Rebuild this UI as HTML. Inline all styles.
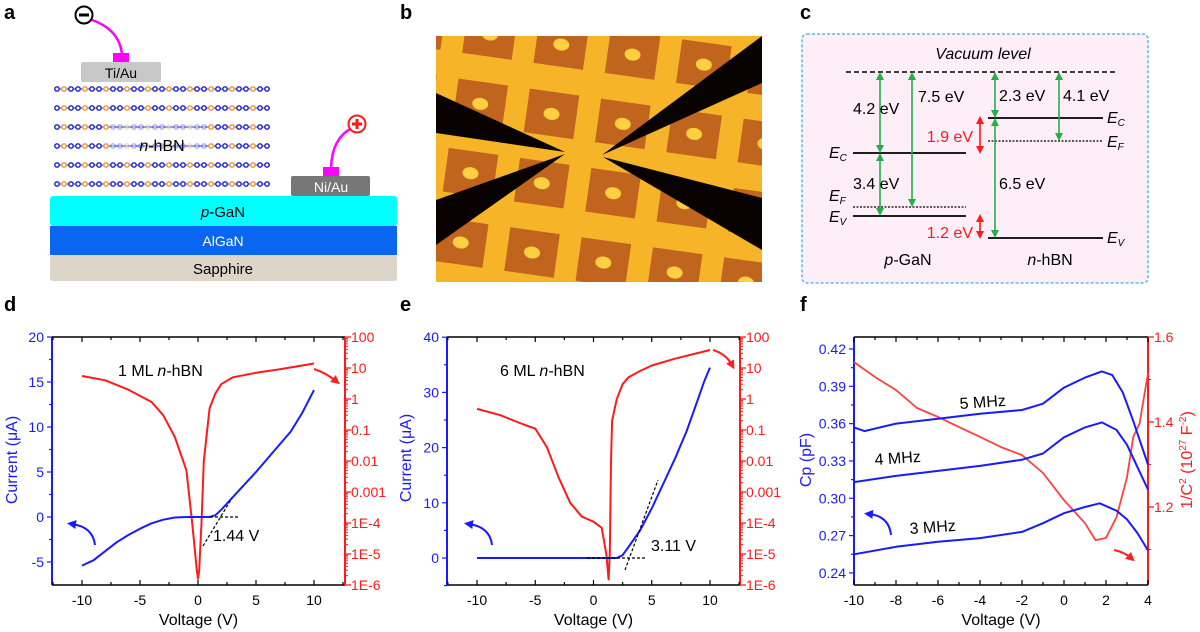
<!DOCTYPE html>
<html><head><meta charset="utf-8">
<style>
html,body{margin:0;padding:0;background:#fff;}
svg{display:block;font-family:"Liberation Sans",Arial,sans-serif;}
</style></head>
<body>
<svg id="fig" width="1200" height="632" viewBox="0 0 1200 632" xmlns="http://www.w3.org/2000/svg">
<defs>
<marker id="ag" markerWidth="8" markerHeight="8" refX="4" refY="4" orient="auto-start-reverse" markerUnits="userSpaceOnUse"><path d="M0,0 L8,4 L0,8 Z" fill="#22b04a"/></marker>
<marker id="ar" markerWidth="8" markerHeight="8" refX="4" refY="4" orient="auto-start-reverse" markerUnits="userSpaceOnUse"><path d="M0,0 L8,4 L0,8 Z" fill="#ff1a1a"/></marker>
<marker id="ab" markerWidth="9" markerHeight="9" refX="4" refY="4.5" orient="auto" markerUnits="userSpaceOnUse"><path d="M0,0 L9,4.5 L0,9 Z" fill="#1a1aff"/></marker>
<marker id="arr" markerWidth="9" markerHeight="9" refX="4" refY="4.5" orient="auto" markerUnits="userSpaceOnUse"><path d="M0,0 L9,4.5 L0,9 Z" fill="#ff2020"/></marker>
<pattern id="grid" width="72" height="70" patternUnits="userSpaceOnUse" patternTransform="rotate(8) translate(20,2)">
<rect width="72" height="70" fill="#f6b428"/>
<rect x="13" y="12" width="50" height="44" fill="#c0641e"/>
<ellipse cx="38" cy="34" rx="8" ry="6" fill="#fcd040"/>
</pattern>
</defs>

<!-- Panel a -->
<g>
<text x="4" y="19" font-size="20" font-weight="bold">a</text>
<rect x="50" y="196" width="347" height="30" fill="#00ffff" rx="3"/>
<rect x="50" y="226" width="347" height="29" fill="#0a66f0"/>
<rect x="50" y="255" width="347" height="26" fill="#ddd5c7" rx="3"/>
<text x="223" y="217" font-size="15" text-anchor="middle"><tspan font-style="italic">p</tspan>-GaN</text>
<text x="223" y="246" font-size="14" text-anchor="middle" fill="#fff">AlGaN</text>
<text x="223" y="274" font-size="15" text-anchor="middle">Sapphire</text>
<rect x="81" y="62" width="80" height="20" fill="#c8c8c8" rx="2"/>
<text x="121" y="78" font-size="14" text-anchor="middle">Ti/Au</text>
<rect x="291" y="176" width="79" height="20" fill="#777" rx="2"/>
<text x="331" y="192" font-size="14" text-anchor="middle" fill="#fff">Ni/Au</text>
<rect x="113" y="53" width="16" height="9" fill="#ff00ff"/>
<rect x="323" y="167" width="16" height="9" fill="#ff00ff"/>
<path d="M92,20 Q120,30 122,55" stroke="#ff00ff" stroke-width="2.5" fill="none"/>
<path d="M352,128 Q332,138 331,168" stroke="#ff00ff" stroke-width="2.5" fill="none"/>
<circle cx="84" cy="15" r="8.5" fill="#fff" stroke="#000" stroke-width="2"/>
<rect x="79" y="13.5" width="10" height="3" fill="#000"/>
<circle cx="357" cy="124" r="8.5" fill="#fff" stroke="#ff1a1a" stroke-width="2"/>
<rect x="352" y="122.5" width="10" height="3" fill="#ff1a1a"/><rect x="355.5" y="119" width="3" height="10" fill="#ff1a1a"/>
<g id="hbn"></g>
<text x="162" y="151" font-size="16" text-anchor="middle"><tspan font-style="italic">n</tspan>-hBN</text>
</g>

<!-- Panel b -->
<g>
<text x="400" y="19" font-size="20" font-weight="bold">b</text>
<rect x="436" y="36" width="326" height="246" fill="url(#grid)"/>
<polygon points="436,93 436,133 565,152" fill="#080200"/>
<polygon points="436,200 436,245 565,154" fill="#080200"/>
<polygon points="762,36 762,83 602,155" fill="#080200"/>
<polygon points="762,198 762,250 603,157" fill="#080200"/>
</g>

<!-- Panel c -->
<g font-size="15">
<text x="800" y="19" font-size="20" font-weight="bold">c</text>
<rect x="802" y="34" width="346" height="249" rx="5" fill="#fdeef8" stroke="#3bb0e8" stroke-width="1.3" stroke-dasharray="3,2"/>
<text x="983" y="59" font-style="italic" font-size="16" text-anchor="middle">Vacuum level</text>
<line x1="846" y1="72" x2="1118" y2="72" stroke="#000" stroke-width="1.6" stroke-dasharray="5,3"/>
<line x1="853" y1="153" x2="966" y2="153" stroke="#000" stroke-width="1.8"/>
<line x1="853" y1="207" x2="966" y2="207" stroke="#000" stroke-width="1.3" stroke-dasharray="2,1.5"/>
<line x1="853" y1="216" x2="966" y2="216" stroke="#000" stroke-width="1.8"/>
<line x1="988" y1="118" x2="1103" y2="118" stroke="#000" stroke-width="1.8"/>
<line x1="988" y1="141" x2="1103" y2="141" stroke="#000" stroke-width="1.3" stroke-dasharray="2,1.5"/>
<line x1="988" y1="238" x2="1103" y2="238" stroke="#000" stroke-width="1.8"/>
<g stroke="#22b04a" stroke-width="1.6" marker-start="url(#ag)" marker-end="url(#ag)">
<line x1="880" y1="76" x2="880" y2="149"/>
<line x1="880" y1="157" x2="880" y2="212"/>
<line x1="912" y1="76" x2="912" y2="203"/>
<line x1="995" y1="76" x2="995" y2="114"/>
<line x1="995" y1="122" x2="995" y2="234"/>
<line x1="1059" y1="76" x2="1059" y2="137"/>
</g>
<g stroke="#ff1a1a" stroke-width="1.6" marker-start="url(#ar)" marker-end="url(#ar)">
<line x1="980" y1="120" x2="980" y2="150"/>
<line x1="980" y1="218" x2="980" y2="235"/>
</g>
<g font-size="16">
<text x="853" y="114">4.2 eV</text>
<text x="918" y="102">7.5 eV</text>
<text x="999" y="101">2.3 eV</text>
<text x="1063" y="101">4.1 eV</text>
<text x="973" y="142" fill="#ff1a1a" text-anchor="end">1.9 eV</text>
<text x="853" y="189">3.4 eV</text>
<text x="999" y="189">6.5 eV</text>
<text x="973" y="238" fill="#ff1a1a" text-anchor="end">1.2 eV</text>
</g>
<g font-style="italic" font-size="16">
<text x="829" y="158">E<tspan font-size="10" dy="3">C</tspan></text>
<text x="829" y="201">E<tspan font-size="10" dy="3">F</tspan></text>
<text x="829" y="222">E<tspan font-size="10" dy="3">V</tspan></text>
<text x="1107" y="123">E<tspan font-size="10" dy="3">C</tspan></text>
<text x="1107" y="147">E<tspan font-size="10" dy="3">F</tspan></text>
<text x="1107" y="243">E<tspan font-size="10" dy="3">V</tspan></text>
</g>
<text x="908" y="265" font-size="16" text-anchor="middle"><tspan font-style="italic">p</tspan>-GaN</text>
<text x="1050" y="265" font-size="16" text-anchor="middle"><tspan font-style="italic">n</tspan>-hBN</text>
</g>

<g id="charts"></g>
</svg>

<script>
// ---------- Panel d data ----------
const dBlueV = [-10,-9,-8,-7,-6,-5,-4,-3,-2,-1,0,1,1.5,2,3,4,5,6,7,8,9,10];
const dBlueI = [-5.4,-4.8,-3.8,-2.8,-2.0,-1.3,-0.7,-0.3,-0.05,0,0,0,0.2,0.8,2.2,3.6,5.0,6.5,8.0,9.5,11.6,14.1];
const dRedV = [-10,-8,-6,-4,-3,-2,-1,-0.5,-0.1,0,0.1,0.3,0.5,1,1.5,2,3,5,7,10];
const dRedI = [5.5,4,2,0.8,0.3,0.06,0.005,1e-4,3e-6,1.6e-6,3e-6,1e-4,0.01,0.5,1.5,3,5,7,9,14];
// ---------- Panel e data ----------
const eBlueV = [-10,-5,0,2,2.5,3,4,5,6,7,8,9,9.5,10];
const eBlueI = [0,0,0,0,0.5,2,5,9,13.5,18,23,29,32,34.5];
const eRedV = [-10,-8,-6,-5,-4,-3,-2,-1,0,0.7,1.1,1.3,1.4,1.5,1.6,2,2.5,3,4,5,7,10];
const eRedI = [0.48,0.3,0.15,0.11,0.028,0.003,4.5e-4,1.6e-4,1.1e-4,7e-5,1e-5,1.5e-6,1e-5,0.01,0.2,1,3,5,8,12,20,38];
// ---------- Panel f data ----------
const fV = [-10,-9.5,-8,-6,-4,-2,-1,0,1,1.8,2.3,2.8,3.3,4];
const f5MHz = [0.357,0.354,0.360,0.364,0.368,0.371,0.376,0.389,0.397,0.402,0.399,0.385,0.362,0.327];
const f4V = [-10,-8,-6,-4,-2,-1,0,1,1.8,2.5,3,3.5,4];
const f4MHz = [0.313,0.318,0.322,0.326,0.331,0.336,0.349,0.357,0.361,0.355,0.343,0.325,0.307];
const f3V = [-10,-8,-6,-4,-2,-1,0,1,1.7,2.5,3,3.5,4];
const f3MHz = [0.255,0.261,0.265,0.268,0.273,0.280,0.288,0.293,0.296,0.290,0.283,0.272,0.258];
const fInvV = [-10,-9,-8,-7,-6,-5,-4,-3,-2,-1,0,1,1.5,2,2.5,3,3.3,3.6,4];
const fInvC2 = [1.541,1.506,1.475,1.433,1.412,1.388,1.365,1.341,1.322,1.28,1.216,1.162,1.122,1.127,1.176,1.27,1.365,1.397,1.515];
// tick labels
const logTickLabels = ["100","10","1","0.1","0.01","0.001","1E-4","1E-5","1E-6"];
const dXTicks = [-10,-5,0,5,10];
const dYTicks = [-5,0,5,10,15,20];
const eYTicks = [0,10,20,30,40];
const fXTicks = [-10,-8,-6,-4,-2,0,2,4];
const fYTicks = [0.24,0.27,0.30,0.33,0.36,0.39,0.42];
const fY2Ticks = [1.2,1.4,1.6];

const NS = "http://www.w3.org/2000/svg";
const root = document.getElementById('charts');
function mk(tag, attrs, parent){
  const el = document.createElementNS(NS, tag);
  for (const k in attrs) el.setAttribute(k, attrs[k]);
  (parent||root).appendChild(el);
  return el;
}
function txt(s, attrs, parent){ const t = mk('text', attrs, parent); t.textContent = s; return t; }
function pathFrom(xs, ys, fx, fy){
  return xs.map((v,i)=>(i?'L':'M')+fx(v).toFixed(1)+','+fy(ys[i]).toFixed(1)).join(' ');
}

// hBN rows (panel a)
(function(){
  const g = document.getElementById('hbn');
  const rows = [89,108,127,146,165,184];
  rows.forEach((y,r)=>{
    mk('line',{x1:55,y1:y,x2:270,y2:y,stroke:'#5566dd','stroke-width':1.3},g);
    for(let i=0;i<31;i++){
      const x = 57 + i*7;
      const faded = (r===2||r===3) && x>110 && x<210;
      mk('circle',{cx:x,cy:y,r:2.2,fill:'#fff',stroke:(i%3===1)?'#f09030':'#1a1acc','stroke-width':1.4,opacity:faded?0.35:1},g);
    }
  });
})();

function panel(o){
  const g = mk('g',{});
  
  
  const L=o.L,R=o.R,T=o.T,B=o.B;
  const lbl = txt(o.letter,{x:o.lx,y:311,'font-size':20,'font-weight':'bold'},g);
  
  
  mk('line',{x1:L,y1:T,x2:R,y2:T,stroke:'#000','stroke-width':1.5},g);
  mk('line',{x1:L,y1:B,x2:R,y2:B,stroke:'#000','stroke-width':1.5},g);
  const la = mk('line',{x1:L,y1:T,x2:L,y2:B,stroke:'#1a1aff','stroke-width':2},g);
  
  
  const ra = mk('line',{x1:R,y1:T,x2:R,y2:B,stroke:'#ff1a1a','stroke-width':2},g);
  
  
  return g;
}
function xTicks(g,o,fx,ticks,minorStep,lo,hi){
  for(let v=lo; v<=hi+1e-9; v+=minorStep){
    const x=fx(v); if(x<o.L-0.5||x>o.R+0.5) continue;
    const major = ticks.some(t=>Math.abs(t-v)<1e-6);
    const h = major?5:3;
    mk('line',{x1:x,y1:o.B,x2:x,y2:o.B-h,stroke:'#000','stroke-width':1.2},g);
    mk('line',{x1:x,y1:o.T,x2:x,y2:o.T+h,stroke:'#000','stroke-width':1.2},g);
  }
  ticks.forEach(v=>{
    const t = txt(String(v),{x:fx(v),y:o.B+20,'font-size':14,'text-anchor':'middle'},g);
    
    
  });
  const xt = txt('Voltage (V)',{x:(o.L+o.R)/2,y:o.B+40,'font-size':16,'text-anchor':'middle'},g);
  
  
}
function yTicksLeft(g,o,fy,ticks,fmt,minor){
  ticks.forEach((v,i)=>{
    const y=fy(v);
    mk('line',{x1:o.L,y1:y,x2:o.L-5,y2:y,stroke:'#1a1aff','stroke-width':1.2},g);
    if(minor && i<ticks.length-1){ const ym=fy((v+ticks[i+1])/2); mk('line',{x1:o.L,y1:ym,x2:o.L-3,y2:ym,stroke:'#1a1aff','stroke-width':1.2},g); }
    const t = txt(fmt(v),{x:o.L-8,y:y+5,'font-size':14,'text-anchor':'end',fill:'#1a1aff'},g);
    
    
  });
}
function logRight(g,o,fyLog){
  logTickLabels.forEach((s,i)=>{
    const dec = 2-i;
    const y = fyLog(Math.pow(10,dec));
    mk('line',{x1:o.R,y1:y,x2:o.R+6,y2:y,stroke:'#ff1a1a','stroke-width':1.3},g);
    const t = txt(s,{x:o.R+6,y:y+5,'font-size':14,fill:'#ff1a1a'},g);
    
    
    if(i<logTickLabels.length-1){
      for(let m=2;m<=9;m++){
        const ym = fyLog(m*Math.pow(10,dec-1));
        mk('line',{x1:o.R,y1:ym,x2:o.R+3,y2:ym,stroke:'#ff1a1a','stroke-width':1},g);
      }
    }
  });
}
function curve(g,xs,ys,fx,fy,color,name,w){
  const p = mk('path',{d:pathFrom(xs,ys,fx,fy),fill:'none',stroke:color,'stroke-width':w||2,'stroke-linejoin':'round'},g);
  
  
}
function rotTitle(g,s,x,y,color,name){
  const t = txt(s,{x:x,y:y,'font-size':16,'text-anchor':'middle',fill:color,transform:'rotate(-90 '+x+' '+y+')'},g);
  
  
  return t;
}
function arrow(g,d,color,marker,name){
  const p = mk('path',{d:d,fill:'none',stroke:color,'stroke-width':2,'marker-end':'url(#'+marker+')'},g);
  
  
}

// ----- Panel d -----
(function(){
  const o={name:'panel-d',letter:'d',lx:4,L:52,R:345,T:337,B:585};
  const fx=v=>198+11.6*v, fy=i=>517-9*i, fyL=v=>337+(2-Math.log10(v))*31;
  const g=panel(o);
  xTicks(g,o,fx,dXTicks,2.5,-12.5,12.5);
  yTicksLeft(g,o,fy,dYTicks,v=>String(v),true);
  logRight(g,o,fyL);
  rotTitle(g,'Current (\u03BCA)',17,460,'#1a1aff','left-axis-title');
  curve(g,dRedV,dRedI,fx,fyL,'#ff1a1a','log-current-curve');
  curve(g,dBlueV,dBlueI,fx,fy,'#1a1aff','linear-current-curve');
  mk('line',{x1:210,y1:517,x2:238,y2:517,stroke:'#000','stroke-width':1.2,'stroke-dasharray':'3,2'},g);
  mk('line',{x1:203,y1:546,x2:232,y2:498,stroke:'#000','stroke-width':1.2,'stroke-dasharray':'3,2'},g);
  const a=txt('1.44 V',{x:213,y:541,'font-size':16},g);
   
  const t=txt('',{x:118,y:376,'font-size':16},g);
  t.innerHTML='1 ML <tspan font-style="italic">n</tspan>-hBN';
   
  arrow(g,'M95,545 Q93,527 72,524','#1a1aff','ab','left-axis-arrow');
  arrow(g,'M314,369 Q326,373 336,381','#ff2020','arr','right-axis-arrow');
})();

// ----- Panel e -----
(function(){
  const o={name:'panel-e',letter:'e',lx:400,L:447,R:740,T:337,B:585};
  const fx=v=>593.5+11.65*v, fy=i=>558-5.52*i, fyL=v=>337+(2-Math.log10(v))*31;
  const g=panel(o);
  xTicks(g,o,fx,dXTicks,2.5,-12.5,12.5);
  yTicksLeft(g,o,fy,eYTicks,v=>String(v),true);
  mk('line',{x1:o.L,y1:fy(-5),x2:o.L-3,y2:fy(-5),stroke:'#1a1aff','stroke-width':1.2},g);
  logRight(g,o,fyL);
  rotTitle(g,'Current (\u03BCA)',411,458,'#1a1aff','left-axis-title');
  curve(g,eRedV,eRedI,fx,fyL,'#ff1a1a','log-current-curve');
  curve(g,eBlueV,eBlueI,fx,fy,'#1a1aff','linear-current-curve');
  mk('line',{x1:587,y1:558,x2:645,y2:558,stroke:'#000','stroke-width':1.2,'stroke-dasharray':'3,2'},g);
  mk('line',{x1:625,y1:570,x2:658,y2:480,stroke:'#000','stroke-width':1.2,'stroke-dasharray':'3,2'},g);
  const a=txt('3.11 V',{x:651,y:551,'font-size':16},g);
   
  const t=txt('',{x:500,y:376,'font-size':16},g);
  t.innerHTML='6 ML <tspan font-style="italic">n</tspan>-hBN';
   
  arrow(g,'M492,545 Q490,527 469,524','#1a1aff','ab','left-axis-arrow');
  arrow(g,'M713,350 Q726,354 732,365','#ff2020','arr','right-axis-arrow');
})();

// ----- Panel f -----
(function(){
  const o={name:'panel-f',letter:'f',lx:800,L:854,R:1148,T:337,B:585};
  const fx=v=>854+21*(v+10), fy=c=>349+(0.42-c)*1244, fy2=c=>337+(1.6-c)*425;
  const g=panel(o);
  xTicks(g,o,fx,fXTicks,1,-10,4);
  yTicksLeft(g,o,fy,fYTicks,v=>v.toFixed(2),true);
  fY2Ticks.forEach((v,i)=>{
    const y=fy2(v);
    mk('line',{x1:o.R,y1:y,x2:o.R+6,y2:y,stroke:'#ff1a1a','stroke-width':1.3},g);
    const ym=fy2(v-0.1); mk('line',{x1:o.R,y1:ym,x2:o.R+3,y2:ym,stroke:'#ff1a1a','stroke-width':1},g);
    const t=txt(v.toFixed(1),{x:o.R+6,y:y+5,'font-size':14,fill:'#ff1a1a'},g);
     
  });
  rotTitle(g,'Cp (pF)',811,460,'#1a1aff','left-axis-title');
  const rt=rotTitle(g,'',1192,460,'#ff1a1a','right-axis-title');
  rt.innerHTML='1/C<tspan font-size="10" dy="-6">2</tspan><tspan dy="6"> (10</tspan><tspan font-size="10" dy="-6">27</tspan><tspan dy="6"> F</tspan><tspan font-size="10" dy="-6">-2</tspan><tspan dy="6">)</tspan>';
  curve(g,fInvV,fInvC2,fx,fy2,'#ff4040','inverse-c2-curve',1.8);
  curve(g,fV,f5MHz,fx,fy,'#1a1aff','cp-5mhz-curve');
  curve(g,f4V,f4MHz,fx,fy,'#1a1aff','cp-4mhz-curve');
  curve(g,f3V,f3MHz,fx,fy,'#1a1aff','cp-3mhz-curve');
  [['5 MHz',960,409],['4 MHz',875,465],['3 MHz',910,534]].forEach(s=>{
    const t=txt(s[0],{x:s[1],y:s[2],'font-size':16,transform:'rotate(-4 '+s[1]+' '+s[2]+')'},g);
     
  });
  arrow(g,'M891,535 Q889,516 869,514','#1a1aff','ab','left-axis-arrow');
  arrow(g,'M1114,550 Q1124,552 1131,558','#ff2020','arr','right-axis-arrow');
})();
</script>
</body></html>
